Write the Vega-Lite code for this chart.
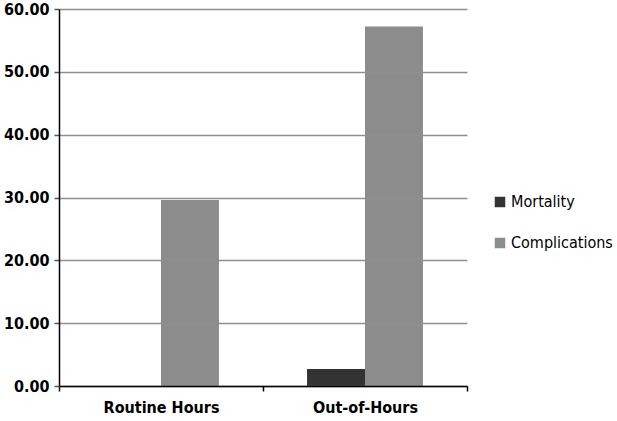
{
  "$schema": "https://vega.github.io/schema/vega-lite/v6.json",
  "autosize": "none",
  "padding": {"left": 59, "top": 9, "right": 150, "bottom": 35},
  "width": 408,
  "height": 377,
  "background": "white",
  "data": {
    "values": [
      {"period": "Routine Hours", "series": "Mortality", "value": 0},
      {"period": "Routine Hours", "series": "Complications", "value": 29.6},
      {"period": "Out-of-Hours", "series": "Mortality", "value": 2.7},
      {"period": "Out-of-Hours", "series": "Complications", "value": 57.2}
    ]
  },
  "mark": {"type": "bar"},
  "encoding": {
    "x": {
      "field": "period",
      "type": "nominal",
      "sort": ["Routine Hours", "Out-of-Hours"],
      "scale": {"paddingInner": 0, "paddingOuter": 0},
      "axis": {
        "title": null,
        "labelAngle": 0,
        "tickBand": "extent",
        "tickColor": "black",
        "tickWidth": 1.5,
        "tickSize": 5,
        "domainColor": "black",
        "domainWidth": 1.5,
        "labelFont": "DejaVu Sans Condensed",
        "labelFontSize": 16,
        "labelFontWeight": "bold",
        "labelColor": "black",
        "labelPadding": 8,
        "zindex": 1
      }
    },
    "xOffset": {
      "field": "series",
      "sort": ["Mortality", "Complications"],
      "scale": {"paddingInner": 0, "paddingOuter": 0.76}
    },
    "y": {
      "field": "value",
      "type": "quantitative",
      "scale": {"domain": [0, 60], "nice": false},
      "axis": {
        "title": null,
        "values": [0, 10, 20, 30, 40, 50, 60],
        "format": ".2f",
        "grid": true,
        "gridColor": "#8f8f8f",
        "gridWidth": 1.5,
        "domainColor": "black",
        "domainWidth": 1.5,
        "tickColor": "#555555",
        "tickWidth": 1.5,
        "tickSize": 5,
        "labelFont": "DejaVu Sans Condensed",
        "labelFontSize": 16,
        "labelFontWeight": "bold",
        "labelColor": "black",
        "labelPadding": 5,
        "zindex": 1
      }
    },
    "color": {
      "field": "series",
      "type": "nominal",
      "sort": ["Mortality", "Complications"],
      "scale": {"domain": ["Mortality", "Complications"], "range": ["#333333", "#8c8c8c"]},
      "legend": {
        "title": null,
        "orient": "none",
        "legendX": 433,
        "legendY": 185,
        "symbolType": "square",
        "symbolSize": 110,
        "symbolStrokeWidth": 0,
        "labelFont": "DejaVu Sans Condensed",
        "labelFontSize": 16,
        "labelColor": "black",
        "labelLimit": 200,
        "rowPadding": 25,
        "labelOffset": 3
      }
    }
  },
  "config": {"view": {"stroke": null}}
}
